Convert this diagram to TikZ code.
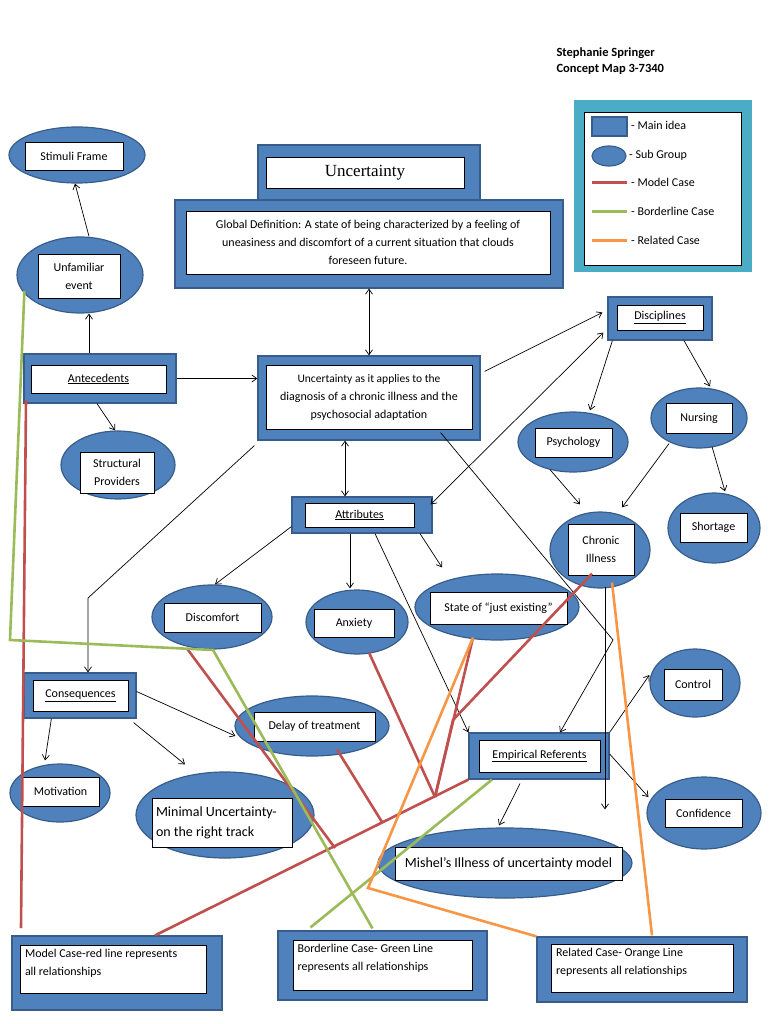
\documentclass[tikz,border=0pt]{standalone}
\usepackage{fontspec}
\setmainfont{Carlito}
\newfontfamily\serifx{Liberation Serif}
\usetikzlibrary{shapes.geometric,calc,arrows.meta}
\definecolor{bl}{HTML}{4F81BD}
\definecolor{bd}{HTML}{385D8A}
\definecolor{tl}{HTML}{4BACC6}
\definecolor{rd}{HTML}{C0504D}
\definecolor{gr}{HTML}{9BBB59}
\definecolor{og}{HTML}{F79646}
\tikzset{
 outer/.style={draw=bd,fill=bl,line width=1.2pt,inner sep=0pt},
 ell/.style={ellipse,draw=bd,fill=bl,line width=1.2pt,inner sep=0pt},
 inbox/.style={draw=black,fill=white,line width=0.8pt,inner sep=0pt,align=center,font=\fontsize{12}{18}\selectfont},
 arr/.style={-{Straight Barb[length=5pt,width=7pt]},line width=0.7pt,black},
 darr/.style={{Straight Barb[length=5pt,width=7pt]}-{Straight Barb[length=5pt,width=7pt]},line width=0.7pt,black},
 cl/.style={line width=2.6pt},
}
\newcommand\boxo[5]{\node[outer,minimum width={(#4-#2)*1pt},minimum height={(#5-#3)*1pt}] (#1) at ({(#2+#4)/2},{(#3+#5)/2}) {};}
\newcommand\ello[5]{\node[ell,minimum width={2*#4*1pt},minimum height={2*#5*1pt}] (#1) at (#2,#3) {};}
\newcommand\inb[6]{\node[inbox,minimum width={(#4-#2)*1pt},minimum height={(#5-#3)*1pt}] (#1) at ({(#2+#4)/2},{(#3+#5)/2}) {#6};}
\begin{document}
\begin{tikzpicture}[x=1pt,y=-1pt]
\useasboundingbox (0,0) rectangle (768,1024);
% title
\node[font=\fontsize{12.5}{16}\selectfont\bfseries,align=left,anchor=north west] (title) at (553,44) {Stephanie Springer\\Concept Map 3-7340};
% legend
\node[draw=none,fill=tl,minimum width=178pt,minimum height=172pt] (legO) at (663,186) {};
\node[draw=black,fill=white,minimum width=157pt,minimum height=153pt] (legI) at (662.5,188.5) {};
\boxo{lgA}{592}{117}{627}{136}
\ello{lgB}{609}{156}{17}{10}
\coordinate (lr1) at (592,183); \coordinate (lr2) at (627,183);
\coordinate (lg1) at (592,212); \coordinate (lg2) at (627,212);
\coordinate (lo1) at (592,240); \coordinate (lo2) at (627,240);
\draw[rd,line width=3pt] (lr1)--(lr2);
\draw[gr,line width=3pt] (lg1)--(lg2);
\draw[og,line width=3pt] (lo1)--(lo2);
\tikzset{lt/.style={anchor=west,font=\fontsize{12}{13}\selectfont,inner sep=1pt}}
\node[lt] (lt1) at (630,125) {- Main idea};
\node[lt] (lt2) at (628,155) {- Sub Group};
\node[lt] (lt3) at (630,182) {- Model Case};
\node[lt] (lt4) at (630,211) {- Borderline Case};
\node[lt] (lt5) at (630,240) {- Related Case};
% nodes
\ello{stim}{77}{155}{68}{28}\inb{stimT}{25}{142}{123}{170}{Stimuli Frame}
\ello{unf}{80}{275}{63}{38}\inb{unfT}{38}{254}{120}{298}{Unfamiliar\\event}
\boxo{uncO}{258}{145}{480}{202}\inb{uncT}{266}{157}{464}{188}{\serifx\fontsize{17}{19}\selectfont Uncertainty}
\boxo{defO}{175}{200}{563}{288}\inb{defT}{186}{211}{550}{274}{Global Definition: A state of being characterized by a feeling of\\uneasiness and discomfort of a current situation that clouds\\foreseen future.}
\boxo{ante}{24}{354}{176}{403}\inb{anteT}{31}{365}{166}{393}{\underline{Antecedents}}
\ello{struc}{118}{465}{57}{34}\inb{strucT}{80}{452}{154}{493}{Structural\\Providers}
\boxo{cen}{258}{356}{480}{440}\inb{cenT}{266}{365}{472}{429}{\fontsize{11.5}{18}\selectfont Uncertainty as it applies to the\\diagnosis of a chronic illness and the\\psychosocial adaptation}
\boxo{attr}{292}{497}{432}{533}\inb{attrT}{305}{503}{414}{527}{\underline{Attributes}}
\boxo{disc}{608}{297}{712}{340}\inb{discT}{617}{305}{703}{330}{\underline{Disciplines}}
\ello{psy}{573}{442}{55}{30}\inb{psyT}{535}{428}{612}{457}{Psychology}
\ello{nur}{699}{418}{48}{30}\inb{nurT}{666}{403}{732}{433}{Nursing}
\ello{chr}{600}{550}{50}{38}\inb{chrT}{568}{524}{634}{575}{Chronic\\Illness}
\ello{sho}{714}{528}{46}{35}\inb{shoT}{680}{513}{747}{542}{Shortage}
\ello{dis}{212}{617}{60}{32}\inb{disT}{164}{603}{261}{632}{Discomfort}
\ello{anx}{357}{622}{51}{32}\inb{anxT}{314}{609}{394}{637}{Anxiety}
\ello{sta}{497}{607}{82}{33}\inb{staT}{430}{592}{567}{624}{State of ``just existing''}
\boxo{cons}{24}{673}{136}{718}\inb{consT}{33}{680}{128}{711}{\underline{Consequences}}
\ello{del}{312}{726}{77}{30}\inb{delT}{254}{712}{375}{741}{Delay of treatment}
\ello{ctl}{695}{683}{45}{34}\inb{ctlT}{664}{669}{722}{700}{Control}
\boxo{emp}{469}{733}{609}{779}\inb{empT}{479}{740}{600}{772}{\underline{Empirical Referents}}
\ello{mot}{60}{793}{50}{29}\inb{motT}{22}{777}{99}{806}{Motivation}
\ello{min}{225}{815}{89}{43}\inb{minT}{152}{798}{292}{847}{\fontsize{14}{20}\selectfont\parbox{132pt}{Minimal Uncertainty-\\on the right track}}
\ello{con}{704}{813}{57}{36}\inb{conT}{665}{799}{742}{827}{Confidence}
\ello{mis}{505}{863}{127}{35}\inb{misT}{395}{847}{622}{880}{\fontsize{14}{15}\selectfont Mishel's Illness of uncertainty model}
\boxo{modO}{12}{936}{222}{1010}\inb{modT}{20}{945}{206}{993}{\parbox[t][40pt]{176pt}{Model Case-red line represents\\all relationships}}
\boxo{borO}{278}{931}{487}{1000}\inb{borT}{293}{940}{472}{990}{\parbox[t][42pt]{170pt}{Borderline Case- Green Line\\represents all relationships}}
\boxo{relO}{537}{937}{747}{1002}\inb{relT}{551}{944}{733}{992}{\parbox[t][40pt]{172pt}{Related Case- Orange Line\\represents all relationships}}
% arrows
\draw[arr] (unf.north)++(9,0) -- ($(stim.south)+(-2,0)$);
\draw[arr] ($(ante.north)+(-11,0)$) -- ($(unf.south)+(9,0)$);
\draw[arr] ($(ante.south)+(-3,0)$) -- ($(struc.north)+(-3,0)$);
\draw[arr] (ante.east) -- (cen.west|-ante.east);
\draw[darr] (cen.north-|defO) -- (defO.south);
\draw[darr] ($(cen.south)+(-24,0)$) -- ($(attr.north)+(-17,0)$);
\draw[arr] ($(cen.north east)+(4,16)$) -- ($(disc.west)+(-5,-6)$);
\draw[darr] ($(attr.north east)+(-2,8)$) -- ($(disc.south west)+(-4,-8)$);
\draw[arr] ($(disc.south west)+(5,0)$) -- ($(psy.north)+(17,-1)$);
\draw[arr] ($(disc.south)+(24,0)$) -- ($(nur.north)+(11,-1)$);
\draw[arr] ($(psy.south)+(-23,-3)$) -- ($(chr.north)+(-20,-7)$);
\draw[arr] ($(nur.south)+(-30,-5)$) -- ($(chr.north)+(22,-4)$);
\draw[arr] ($(nur.south)+(13,-2)$) -- ($(sho.north)+(11,-1)$);
\draw[arr] ($(attr.south west)+(0,-7)$) -- ($(dis.north)+(3,0)$);
\draw[arr] ($(attr.south)+(-12,0)$) -- ($(anx.north)+(-7,-1)$);
\draw[arr] ($(attr.south)+(58,0)$) -- ($(sta.north)+(-55,-6)$);
\draw[arr] ($(attr.south)+(13,0)$) -- (emp.north west);
\coordinate (b1) at (88,598);
\draw[arr] ($(cen.south west)+(-3,5)$) -- (b1) -- (cons.north-|b1);
\coordinate (b2) at (613,640);
\draw[arr] ($(cen.south east)+(-40,-8)$) -- (b2) -- ($(emp.north)+(21,0)$);
\draw[arr] ($(chr.south)+(5,-2)$) -- ($(mis.north)+(100,-18)$);
\draw[arr] ($(cons.east)+(0,-4)$) -- ($(del.west)+(1,10)$);
\draw[arr] ($(cons.south west)+(28,0)$) -- ($(mot.north)+(-15,-3)$);
\draw[arr] ($(cons.south east)+(-3,4)$) -- ($(min.north)+(-40,-7)$);
\draw[arr] (emp.north east) -- ($(ctl.west)+(0,-8)$);
\draw[arr] ($(emp.east)+(0,-2)$) -- ($(con.west)+(2,-16)$);
\draw[arr] ($(emp.south)+(-19,4)$) -- ($(mis.north)+(-6,-2)$);
% red lines
\coordinate (r1) at (26,400); \coordinate (r2) at (21,928);
\coordinate (r3) at (335,848); \coordinate (r4) at (382,822);
\coordinate (r5) at (435,797); \coordinate (r6) at (453,720);
\draw[cl,rd] (r1) -- (r2);
\draw[cl,rd] ($(modO.north)+(38,0)$) -- (emp.south west);
\draw[cl,rd] ($(dis.south)+(-25,-1)$) -- (r3);
\draw[cl,rd] ($(del.south)+(25,-7)$) -- (r4);
\draw[cl,rd] ($(anx.south)+(12,-2)$) -- (r5);
\draw[cl,rd] ($(sta.south)+(-24,-3)$) -- (r5);
\draw[cl,rd] ($(chr.south)+(-8,-15)$) -- (r6) -- (r5);
% green lines
\coordinate (g1) at (10,640); \coordinate (g2) at (213,650);
\draw[cl,gr] ($(unf.west)+(8,16)$) -- (g1) -- (g2) -- ($(borO.north)+(-10,-2)$);
\draw[cl,gr] ($(emp.south)+(-47,0)$) -- ($(borO.north)+(-72,-3)$);
% orange lines
\coordinate (o1) at (368,888);
\draw[cl,og] ($(sta.south)+(-24,-3)$) -- (o1) -- (relO.north west);
\draw[cl,og] ($(chr.south)+(12,-6)$) -- ($(relO.north)+(10,-1)$);
\end{tikzpicture}
\end{document}
